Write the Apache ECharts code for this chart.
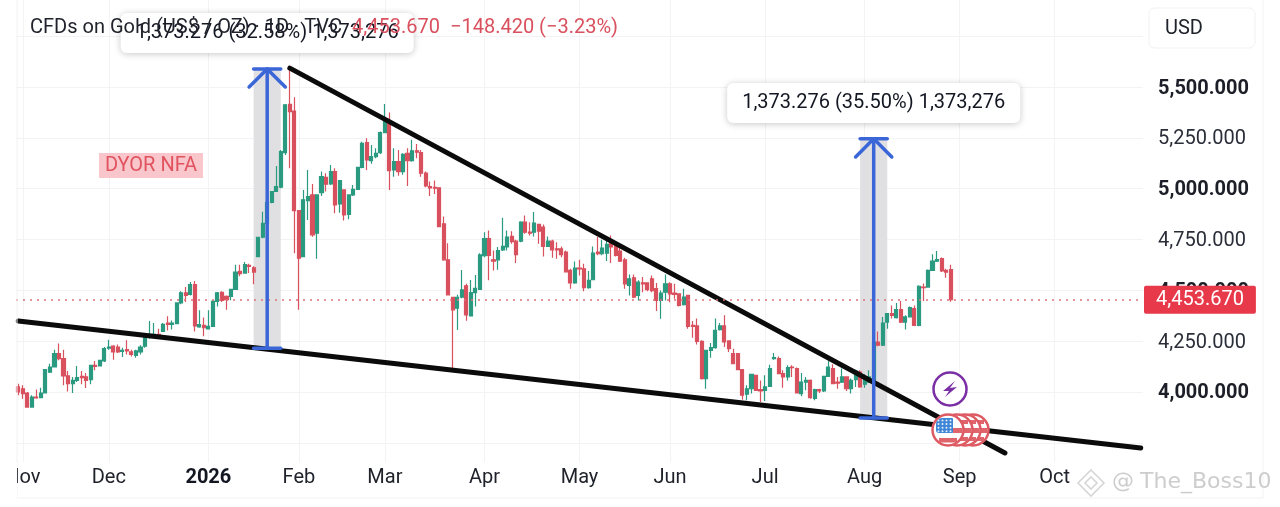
<!DOCTYPE html>
<html><head><meta charset="utf-8">
<style>html,body{margin:0;padding:0;background:#fff}#c{width:1280px;height:507px}</style>
<script src="https://cdn.jsdelivr.net/npm/echarts@6/dist/echarts.min.js"></script>
</head><body><div id="c"></div>
<script>
// [open, close, low, high]
const candles = [
[4025,4000,3984,4041],[4016,3992,3967,4033],[3995,3926,3926,4000],[3926,3975,3926,3984],[3975,3971,3967,4012],
[3972,3995,3971,4021],[3995,4110,3993,4113],[4098,4123,4094,4139],[4123,4189,4120,4208],[4189,4164,4156,4238],
[4164,4079,4033,4208],[4079,4041,4003,4103],[4041,4057,3995,4074],[4057,4071,4049,4128],[4077,4071,4038,4103],
[4074,4057,4020,4094],[4061,4131,4038,4134],[4131,4126,4107,4152],[4128,4156,4126,4159],[4153,4213,4148,4221],
[4216,4221,4208,4257],[4226,4197,4159,4230],[4221,4197,4192,4234],[4200,4205,4172,4218],[4208,4202,4185,4254],
[4197,4185,4175,4208],[4180,4202,4169,4208],[4197,4221,4185,4230],[4225,4274,4218,4279],[4271,4284,4262,4349],
[4279,4284,4274,4339],[4284,4277,4271,4311],[4298,4333,4295,4339],[4339,4333,4303,4372],[4333,4339,4307,4352],
[4336,4438,4334,4441],[4438,4488,4431,4495],[4488,4475,4443,4516],[4480,4528,4475,4541],[4528,4325,4298,4546],
[4320,4331,4316,4402],[4328,4316,4274,4366],[4310,4323,4307,4402],[4323,4446,4320,4451],[4446,4488,4421,4492],
[4490,4451,4443,4495],[4470,4454,4405,4475],[4470,4505,4451,4508],[4505,4590,4503,4626],[4593,4582,4569,4626],
[4585,4626,4582,4639],[4623,4618,4585,4631],[4611,4590,4530,4618],[4666,4761,4663,4764],[4761,4830,4756,4887],
[4830,4932,4830,4945],[4932,4986,4928,4989],[4986,5010,4986,5112],[5007,5182,5002,5190],[5177,5412,5166,5417],
[5415,5379,5100,5592],[5382,4892,4682,5449],[4892,4658,4404,4895],[4666,4945,4663,4994],[4941,4961,4846,5092],
[4969,4773,4764,5023],[4781,4969,4655,4972],[4981,5059,4964,5084],[5056,5022,4986,5076],[5023,5084,5018,5117],
[5084,4920,4879,5100],[4925,5040,4882,5043],[4994,4871,4843,4997],[4874,4969,4850,4972],[4969,4997,4964,5018],
[4997,5105,4994,5108],[5105,5223,5100,5231],[5227,5141,5092,5248],[5138,5158,5122,5215],[5158,5174,5150,5199],
[5177,5276,5171,5281],[5276,5330,5272,5417],[5326,5089,4994,5374],[5092,5133,5059,5199],[5133,5084,5063,5190],
[5084,5169,5068,5174],[5174,5138,5013,5199],[5138,5186,5133,5240],[5186,5179,5150,5220],[5177,5076,5059,5190],
[5076,5013,5007,5084],[5010,5004,4964,5035],[5007,5002,4974,5040],[5004,4813,4810,5007],[4827,4650,4646,4863],
[4650,4478,4474,4732],[4466,4404,4109,4469],[4412,4466,4305,4478],[4466,4502,4461,4600],[4522,4379,4351,4532],
[4374,4489,4371,4551],[4489,4510,4420,4576],[4505,4674,4502,4682],[4670,4754,4663,4786],[4754,4672,4549,4794],
[4650,4644,4598,4696],[4650,4696,4601,4713],[4699,4716,4693,4857],[4713,4762,4696,4794],[4765,4740,4729,4791],
[4742,4676,4634,4749],[4742,4835,4737,4840],[4835,4786,4778,4868],[4786,4781,4770,4835],[4786,4831,4765,4885],
[4824,4791,4729,4827],[4811,4716,4667,4824],[4716,4742,4713,4765],[4742,4699,4660,4749],[4704,4699,4655,4737],
[4704,4676,4663,4716],[4688,4591,4588,4696],[4598,4536,4508,4606],[4536,4609,4532,4642],[4609,4606,4573,4650],
[4606,4513,4496,4631],[4513,4549,4508,4595],[4552,4683,4549,4716],[4688,4680,4672,4762],[4680,4708,4672,4749],
[4683,4726,4644,4745],[4745,4713,4634,4770],[4721,4672,4667,4737],[4693,4644,4639,4713],[4650,4532,4508,4660],
[4524,4557,4475,4578],[4562,4467,4462,4578],[4475,4540,4450,4549],[4537,4532,4491,4565],[4537,4503,4496,4540],
[4557,4499,4491,4573],[4508,4450,4398,4536],[4450,4486,4360,4499],[4491,4532,4450,4578],[4532,4483,4442,4540],
[4486,4480,4458,4532],[4483,4426,4421,4486],[4429,4467,4426,4508],[4475,4323,4311,4478],[4328,4323,4267,4349],
[4325,4249,4234,4361],[4249,4066,4062,4254],[4066,4205,4016,4208],[4205,4218,4169,4241],[4218,4303,4213,4361],
[4307,4325,4303,4339],[4325,4246,4221,4377],[4251,4213,4197,4254],[4189,4139,4136,4213],[4189,4110,4107,4192],
[4110,3984,3962,4113],[3989,4016,3959,4033],[4016,4087,3992,4090],[4082,4008,4005,4085],[4012,4005,3951,4057],
[4008,4025,3956,4082],[4028,4115,4025,4134],[4164,4169,4159,4192],[4164,4090,4087,4175],[4090,4074,4021,4107],
[4074,4120,4057,4131],[4123,4120,4074,4131],[4115,3995,3992,4120],[3992,4049,3979,4094],[4049,4057,4008,4074],
[4057,3972,3967,4061],[3969,4012,3959,4016],[4012,4005,3995,4016],[4005,4077,4000,4080],[4077,4123,4074,4152],
[4115,4041,4038,4136],[4049,4044,4016,4074],[4049,4074,4044,4115],[4074,4016,4005,4077],[4016,4057,3992,4066],
[4061,4103,4025,4110],[4098,4025,4021,4107],[4038,4074,4021,4087],[4049,4074,4044,4107],[4054,4246,4049,4249],
[4246,4230,4225,4298],[4230,4339,4226,4369],[4344,4385,4311,4389],[4385,4377,4361,4426],[4366,4405,4361,4438],
[4405,4344,4339,4448],[4344,4369,4307,4377],[4369,4415,4366,4421],[4410,4328,4325,4426],[4328,4520,4323,4525],
[4516,4513,4448,4533],[4516,4598,4513,4602],[4598,4644,4595,4677],[4644,4651,4639,4693],[4656,4595,4590,4661],
[4598,4590,4562,4606],[4602,4453.67,4444,4626]
];
const barSlots = 249;
const monthLabels = ['Nov','Dec','2026','Feb','Mar','Apr','May','Jun','Jul','Aug','Sep','Oct'];
const monthBars   = [1,20,42,62,81,103,124,144,165,187,208,229];
const lastPrice = 4453.67;
const hiddenTicks = [3500,3750,5750,6000];
const boldTicks = [4000,4500,5000,5500];

// trend lines: [bar, price]
const upperTrend = [[60,5593],[218,3700]];
const lowerTrend = [[0,4349],[248,3725]];
// first measure arrow
const arrow1Shaft = [[55,5588],[55,4215]];
const arrow1Top   = [[52,5588],[58,5588]];
const arrow1Base  = [[52,4215],[58,4215]];
const arrow1Head  = [[51,5500],[55,5588],[59,5500]];
const arrow1Band  = [[52,5588],[58,4215]];
// second measure arrow
const arrow2Shaft = [[189,5245],[189,3872]];
const arrow2Top   = [[186,5245],[192,5245]];
const arrow2Base  = [[186,3872],[192,3872]];
const arrow2Head  = [[185,5156],[189,5245],[193,5156]];
const arrow2Band  = [[186,5245],[192,3872]];
const measureText1 = '1,373.276 (32.58%) 1,373,276';
const measureText2 = '1,373.276 (35.50%) 1,373,276';
const measureAnchor1 = [55,5766];
const measureAnchor2 = [189,5421];

const categories = Array.from({length:barSlots},(_,i)=>{const k=monthBars.indexOf(i);return k>=0?monthLabels[k]:'';});
const isMonth = i => monthBars.indexOf(i)>=0;
const FONT='Roboto';
const UP='#2a9a80', DOWN='#d9505e', BLUE='#3a66d8';

function line(data,color,width,z){
  return {type:'line',data,showSymbol:false,symbol:'none',silent:true,animation:false,z,clip:false,
    lineStyle:{color,width,cap:'round',join:'round'},itemStyle:{color}};
}
function note(anchor,text){
  return {silent:true,animation:false,symbol:'circle',symbolSize:1,itemStyle:{color:'transparent'},
    data:[{coord:anchor}],
    label:{show:true,position:'inside',formatter:text,fontFamily:FONT,fontSize:20,color:'#131722',
      backgroundColor:'#fff',borderRadius:6,padding:[11,15,9,15],shadowBlur:7,shadowColor:'rgba(0,0,0,0.22)',shadowOffsetY:1}};
}
function band(b){return {silent:true,animation:false,itemStyle:{color:'#e0e0e3'},data:[[{coord:b[0]},{coord:b[1]}]]};}

const arrowSeries=[
  Object.assign(line(arrow1Shaft,BLUE,3.5,5),{markArea:band(arrow1Band),markPoint:note(measureAnchor1,measureText1)}),
  line(arrow1Top,BLUE,3.5,5),line(arrow1Base,BLUE,3.5,5),line(arrow1Head,BLUE,3.5,5),
  Object.assign(line(arrow2Shaft,BLUE,3.5,5),{markArea:band(arrow2Band),markPoint:note(measureAnchor2,measureText2)}),
  line(arrow2Top,BLUE,3.5,5),line(arrow2Base,BLUE,3.5,5),line(arrow2Head,BLUE,3.5,5)
];

// US-flag event badge drawn at (cx,cy)
function coin(cx,cy,z,full){
  const r=15.5, els=[];
  els.push({type:'circle',shape:{cx,cy,r},style:{fill:'#fff',stroke:'#de5a63',lineWidth:2.5},z});
  if(full){
    els.push({type:'rect',shape:{x:cx+5,y:cy-2,width:9,height:5},style:{fill:'#e0646c'},z});
    els.push({type:'rect',shape:{x:cx-9,y:cy+8,width:18,height:4.5},style:{fill:'#e0646c'},z});
    els.push({type:'rect',shape:{x:cx-12,y:cy-12,width:17,height:15,r:[6,1,1,3]},style:{fill:'#3f86d6'},z:z+0.1});
    for(let a=0;a<4;a++)for(let b=0;b<4;b++)
      els.push({type:'circle',shape:{cx:cx-9.5+a*4,cy:cy-9.5+b*3.6,r:1},style:{fill:'#e6f0fb'},z:z+0.2});
  }else{
    els.push({type:'rect',shape:{x:cx+2,y:cy-2,width:12,height:5},style:{fill:'#e0646c'},z});
    els.push({type:'rect',shape:{x:cx+1,y:cy-10,width:10,height:4},style:{fill:'#e0646c'},z});
    els.push({type:'rect',shape:{x:cx+1,y:cy+7,width:10,height:4},style:{fill:'#e0646c'},z});
  }
  return els;
}

const graphic=[
  {type:'rect',shape:{x:0,y:462,width:1144,height:45},style:{fill:'#fff'},z:5},
  {type:'rect',shape:{x:0,y:462,width:17,height:40},style:{fill:'#fff'},z:15},
  {type:'line',shape:{x1:17,y1:0,x2:17,y2:498},style:{stroke:'#f2f2f4',lineWidth:1},z:6},
  {type:'line',shape:{x1:1263,y1:0,x2:1263,y2:498},style:{stroke:'#f2f2f4',lineWidth:1},z:6},
  {type:'line',shape:{x1:17,y1:498,x2:1263,y2:498},style:{stroke:'#f2f2f4',lineWidth:1},z:6},
  {type:'text',x:30,y:28,style:{text:'CFDs on Gold (US$ / OZ) · 1D · TVC',font:'20px Roboto',fill:'#20232b',verticalAlign:'middle'},z:20},
  {type:'text',x:352,y:28,style:{text:'4,453.670',font:'20px Roboto',fill:'#d9505e',verticalAlign:'middle'},z:20},
  {type:'text',x:450,y:28,style:{text:'−148.420 (−3.23%)',font:'20px Roboto',fill:'#d9505e',verticalAlign:'middle'},z:20},
  {type:'rect',shape:{x:99,y:153,width:104,height:25},style:{fill:'#f9c7cb'},z:6},
  {type:'text',x:151,y:166,style:{text:'DYOR NFA',font:'20px Roboto',fill:'#e0535f',align:'center',verticalAlign:'middle'},z:7},
  {type:'rect',shape:{x:1149,y:8,width:106,height:40,r:6},style:{fill:'#fff',stroke:'#f1f1f3',lineWidth:1},z:6},
  {type:'text',x:1165,y:29,style:{text:'USD',font:'20px Roboto',fill:'#20232b',verticalAlign:'middle'},z:7},
  {type:'circle',shape:{cx:950,cy:389,r:16.5},style:{fill:'#fff',stroke:'#7a2fa5',lineWidth:2.5},z:7},
  {type:'polygon',shape:{points:[[955,381],[943,391],[949,391],[945,397],[957,387],[950,388]]},style:{fill:'#7a2fa5'},z:8},
  ...coin(973,430,8,false),...coin(965,430,9,false),...coin(957,430,10,false),...coin(948,430,11,true),
  {type:'polygon',shape:{points:[[1091,470],[1104,483],[1091,496],[1078,483]]},style:{fill:'none',stroke:'#d6d6d6',lineWidth:1.6},z:7},
  {type:'polygon',shape:{points:[[1091,477],[1097,483],[1091,489],[1085,483]]},style:{fill:'none',stroke:'#d6d6d6',lineWidth:1.6},z:7},
  {type:'text',x:1112,y:482,style:{text:'@',font:'22px "DejaVu Sans"',fill:'#cdcdcd',verticalAlign:'middle'},z:7},
  {type:'text',x:1140,y:482,style:{text:'The_Boss10',font:'22px "DejaVu Sans"',fill:'#cdcdcd',verticalAlign:'middle'},z:7}
];

const fmt=v=>v.toLocaleString('en-US',{minimumFractionDigits:3,maximumFractionDigits:3});
const option={
  animation:false,backgroundColor:'#fff',
  textStyle:{fontFamily:FONT},
  grid:{left:16,top:-14.66,width:1127,height:508.32,containLabel:false,outerBoundsMode:'none'},
  xAxis:[
    {type:'category',data:categories,position:'bottom',axisLine:{show:false},axisTick:{show:false},axisLabel:{show:false},
     splitLine:{show:true,alignWithLabel:true,interval:i=>isMonth(i),lineStyle:{color:'#f3f3f5',width:1}}},
    {type:'category',data:categories,position:'bottom',z:10,axisLine:{show:false},axisTick:{show:false},splitLine:{show:false},
     axisLabel:{show:true,interval:i=>isMonth(i),margin:-26,hideOverlap:false,fontFamily:FONT,fontSize:20,color:'#20232b',
       formatter:v=>v==='2026'?'{b|2026}':v,rich:{b:{fontWeight:'bold',fontSize:20,fontFamily:FONT,color:'#131722'}}}}
  ],
  yAxis:{type:'value',position:'right',min:3500,max:6000,interval:250,scale:true,
    axisLine:{show:false},axisTick:{show:false},
    splitLine:{show:true,lineStyle:{color:'#f3f3f5',width:1}},
    axisLabel:{margin:15,align:'left',fontFamily:FONT,fontSize:20,color:'#2a2e39',padding:[3,0,0,0],
      formatter:v=>hiddenTicks.includes(v)?'':(boldTicks.includes(v)?'{b|'+fmt(v)+'}':fmt(v)),
      rich:{b:{fontWeight:'bold',fontSize:20,fontFamily:FONT,color:'#1c1f27'}}}},
  series:[
    {type:'candlestick',data:candles,xAxisIndex:0,barWidth:3.6,z:3,clip:false,silent:true,animation:false,
     itemStyle:{color:UP,color0:DOWN,borderColor:UP,borderColor0:DOWN,borderWidth:1.2},
     markLine:{silent:true,animation:false,symbol:'none',precision:3,
       data:[{yAxis:lastPrice}],
       lineStyle:{color:'#e0707a',type:[2,5],width:1.5},
       label:{show:true,position:'end',distance:1,formatter:'4,453.670',color:'#fff',backgroundColor:'#e8394a',
         fontFamily:FONT,fontSize:20,padding:[5,12,3,12],borderRadius:2}}},
    line(upperTrend,'#0b0b0b',5,4),
    line(lowerTrend,'#0b0b0b',5,4),
    ...arrowSeries
  ],
  graphic
};
const chart=echarts.init(document.getElementById('c'),null,{renderer:'canvas'});
chart.setOption(option);
</script></body></html>
